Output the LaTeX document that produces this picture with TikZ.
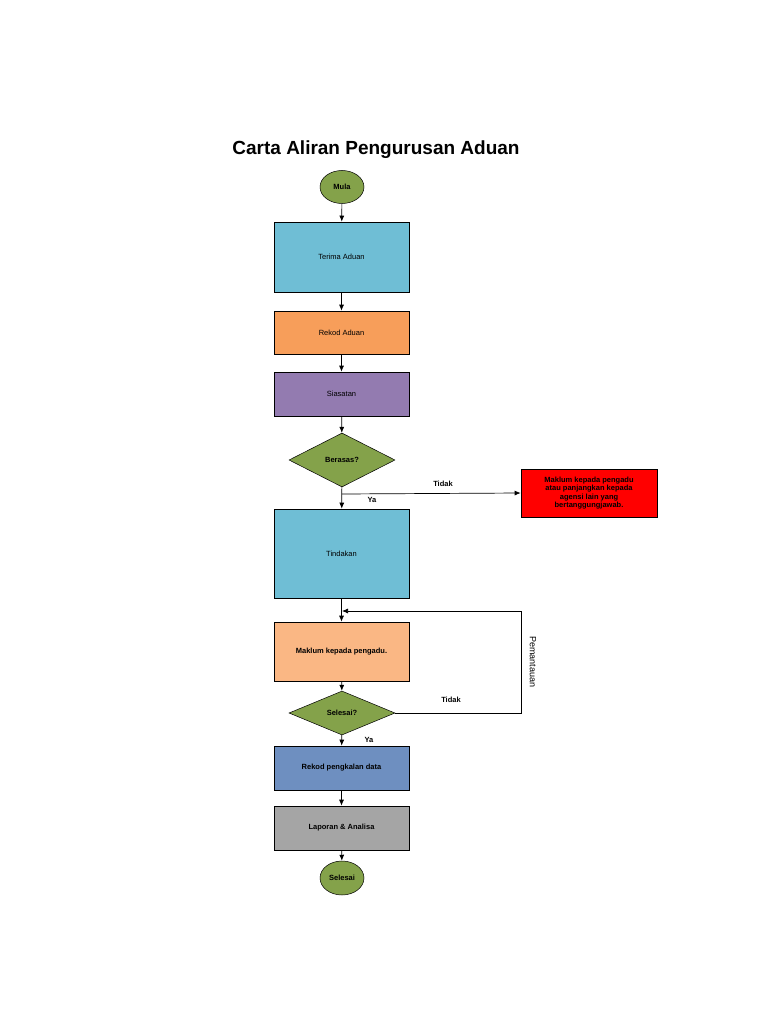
\documentclass[tikz,border=0pt]{standalone}
\usepackage{fontspec}
\setmainfont{Liberation Sans}
\usetikzlibrary{shapes.geometric,arrows.meta}
\definecolor{grn}{HTML}{84A24A}
\definecolor{cblue}{HTML}{6FBED5}
\definecolor{corange}{HTML}{F79E5A}
\definecolor{cpurple}{HTML}{937BB0}
\definecolor{cpeach}{HTML}{FAB784}
\definecolor{cdblue}{HTML}{6E8FC0}
\definecolor{cgrey}{HTML}{A5A5A5}
\begin{document}
\begin{tikzpicture}[x=1pt,y=-1pt,
  box/.style={draw=black,line width=0.7pt,minimum width=135pt,font=\fontsize{7.5}{9}\selectfont},
  dec/.style={draw=black,line width=0.5pt,diamond,aspect=2,fill=grn,font=\fontsize{7.5}{9}\selectfont\bfseries,inner sep=0pt},
  term/.style={draw=black,line width=0.5pt,ellipse,fill=grn,minimum width=44pt,minimum height=33pt,inner sep=0pt,font=\fontsize{7.5}{9}\selectfont\bfseries},
  arr/.style={draw=black,line width=0.7pt,-{Latex[length=6pt,width=5pt]}},
  lbl/.style={font=\fontsize{7.5}{9}\selectfont\bfseries}]
\useasboundingbox (0,0) rectangle (768,1024);
\node[font=\fontsize{19}{22}\selectfont\bfseries] (title) at (376,150) {Carta Aliran Pengurusan Aduan};
\node[term] (mula) at (342,187) {Mula};
\node[box,fill=cblue,minimum height=70pt] (terima) at (341.5,257) {Terima Aduan};
\node[box,fill=corange,minimum height=43pt] (rekod) at (341.5,332.5) {Rekod Aduan};
\node[box,fill=cpurple,minimum height=44pt] (sias) at (341.5,394) {Siasatan};
\node[dec,minimum width=106pt,minimum height=54pt] (beras) at (342,460) {Berasas?};
\node[box,fill=cblue,minimum height=89pt] (tind) at (341.5,553.5) {Tindakan};
\node[box,fill=red,minimum width=136pt,minimum height=48pt,align=center,font=\fontsize{7.5}{8.5}\selectfont\bfseries] (merah) at (589,493) {Maklum kepada pengadu\\atau panjangkan kepada\\agensi lain yang\\bertanggungjawab.};
\node[box,fill=cpeach,minimum height=59pt,font=\fontsize{7.5}{9}\selectfont\bfseries] (maklum) at (341.5,651.5) {Maklum kepada pengadu.};
\node[dec,minimum width=106pt,minimum height=44pt] (seles) at (342,713) {Selesai?};
\node[box,fill=cdblue,minimum height=44pt,font=\fontsize{7.5}{9}\selectfont\bfseries] (rekpk) at (341.5,768) {Rekod pengkalan data};
\node[box,fill=cgrey,minimum height=44pt,font=\fontsize{7.5}{9}\selectfont\bfseries] (lapor) at (341.5,828) {Laporan \& Analisa};
\node[term,minimum height=34pt] (selesai) at (342,878) {Selesai};
\coordinate (j1) at (342,494);
\coordinate (j2) at (342,611);
\coordinate (c1) at (521,713);
\coordinate (c2) at (521,611);
\draw[arr] (mula) -- (terima);
\draw[arr] (terima) -- (rekod);
\draw[arr] (rekod) -- (sias);
\draw[arr] (sias) -- (beras);
\draw[arr] (beras) -- (tind);
\draw[arr] (j1) -- (merah.west);
\draw[arr] (tind) -- (maklum);
\draw[arr] (maklum) -- (seles);
\draw[arr] (seles) -- (rekpk);
\draw[arr] (rekpk) -- (lapor);
\draw[arr] (lapor) -- (selesai);
\draw[arr] (seles.east) -- (c1) -- (c2) -- (j2);
\node[lbl] (t1) at (443,484) {Tidak};
\node[lbl] (y1) at (372,500) {Ya};
\node[lbl] (t2) at (451,700) {Tidak};
\node[lbl] (y2) at (369,740) {Ya};
\node[font=\fontsize{9}{10}\selectfont,rotate=-90] (pem) at (533,662) {Pemantauan};
\end{tikzpicture}
\end{document}
